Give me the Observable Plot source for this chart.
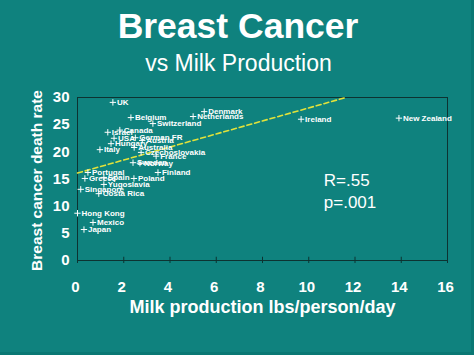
<!DOCTYPE html>
<html>
<head>
<meta charset="utf-8">
<script src="https://cdn.jsdelivr.net/npm/d3@7"></script>
<script src="https://cdn.jsdelivr.net/npm/@observablehq/plot@0.6"></script>
<style>
  html, body { margin: 0; padding: 0; background: #0f827e; }
  #chart { position: relative; width: 474px; height: 355px; overflow: hidden; }
  #chart::after { content: ""; position: absolute; left: 0; top: 0; width: 474px; height: 355px;
    box-sizing: border-box; border-right: 3px solid #0a7874; border-bottom: 3px solid #0a7874; pointer-events: none; }
</style>
</head>
<body>
<div id="chart"></div>
<script>
const countries = ["UK","Belgium","Switzerland","Denmark","Netherlands","Ireland","New Zealand",
  "Israel","Canada","USA","German FR","Austria","Hungary","Italy","Australia","Czechoslovakia",
  "France","Sweden","Norway","Finland","Portugal","Greece","Spain","Poland","Yugoslavia",
  "Singapore","Costa Rica","Hong Kong","Mexico","Japan"];
const milk = [1.53,2.31,3.26,5.48,5.0,9.67,13.9,
  1.31,1.83,1.58,2.5,2.8,1.45,0.97,2.45,2.75,
  3.4,2.4,2.7,3.48,0.45,0.32,1.14,2.44,1.14,
  0.14,0.92,0.0,0.67,0.28];
const deathRate = [29.1,26.3,25.2,27.4,26.5,26.0,26.2,
  23.6,24.0,22.5,22.6,22.1,21.5,20.4,20.8,19.9,
  19.2,18.0,17.9,16.2,16.2,15.1,15.3,15.1,14.0,
  13.1,12.3,8.7,7.0,5.7];
const trendX = [0, 11.6];
const trendY = [16.1, 30];
const xTicks = [0,2,4,6,8,10,12,14,16];
const yTicks = [0,5,10,15,20,25,30];
const title = "Breast Cancer";
const subtitle = "vs Milk Production";
const xLabel = "Milk production lbs/person/day";
const yLabel = "Breast cancer death rate";
const stats = ["R=.55", "p=.001"];
const statsX = 10.65;
const statsY = [13.8, 9.7];

const points = countries.map((c, i) => ({name: c, x: milk[i], y: deathRate[i]}));
const trend = trendX.map((x, i) => ({x, y: trendY[i]}));
const statRows = stats.map((s, i) => ({s, x: statsX, y: statsY[i]}));

const font = "'Liberation Sans', Arial, Helvetica, sans-serif";

const chart = Plot.plot({
  width: 474,
  height: 355,
  marginLeft: 77,
  marginRight: 27,
  marginTop: 97,
  marginBottom: 95,
  style: {background: "transparent", color: "white", fontFamily: font, overflow: "visible"},
  x: {domain: [0, 16], ticks: xTicks},
  y: {domain: [0, 30], ticks: yTicks},
  marks: [
    Plot.frame({stroke: "#0d3331", strokeWidth: 1}),
    Plot.axisX({ticks: xTicks, tickSize: 0, tickPadding: 21, fontSize: 15, fontWeight: "bold", fill: "white", label: null, dx: -2}),
    Plot.axisY({ticks: yTicks, tickSize: 0, tickPadding: 8, fontSize: 15, fontWeight: "bold", fill: "white", label: null}),
    Plot.ruleX(xTicks, {x: d => d, y1: -0.55, y2: 0.6, stroke: "#0d3331", strokeWidth: 1}),
    Plot.line(trend, {x: "x", y: "y", stroke: "#e2e23a", strokeWidth: 1.6, strokeDasharray: "5,3"}),
    Plot.dot(points, {x: "x", y: "y", symbol: "plus", r: 2.2, stroke: "white", strokeWidth: 1}),
    Plot.text(points, {x: "x", y: "y", text: "name", dx: 4, textAnchor: "start", lineAnchor: "middle", fontSize: 8, fontWeight: "bold", fill: "white"}),
    Plot.text(statRows, {x: "x", y: "y", text: "s", textAnchor: "start", lineAnchor: "bottom", fontSize: 17, fill: "white"}),
    Plot.text([title], {frameAnchor: "top", text: d => d, dx: -24.5, dy: -71, textAnchor: "middle", lineAnchor: "middle", fontSize: 35.5, fontWeight: "bold", fill: "white"}),
    Plot.text([subtitle], {frameAnchor: "top", text: d => d, dx: -24, dy: -34, textAnchor: "middle", lineAnchor: "middle", fontSize: 23, fill: "white"}),
    Plot.text([xLabel], {frameAnchor: "bottom", text: d => d, dy: 46.5, textAnchor: "middle", lineAnchor: "middle", fontSize: 18, fontWeight: "bold", fill: "white"}),
    Plot.text([yLabel], {frameAnchor: "left", text: d => d, dx: -40, dy: 1.5, rotate: -90, textAnchor: "middle", lineAnchor: "middle", fontSize: 15.5, fontWeight: "bold", fill: "white"})
  ]
});
document.getElementById("chart").appendChild(chart);
</script>
</body>
</html>
